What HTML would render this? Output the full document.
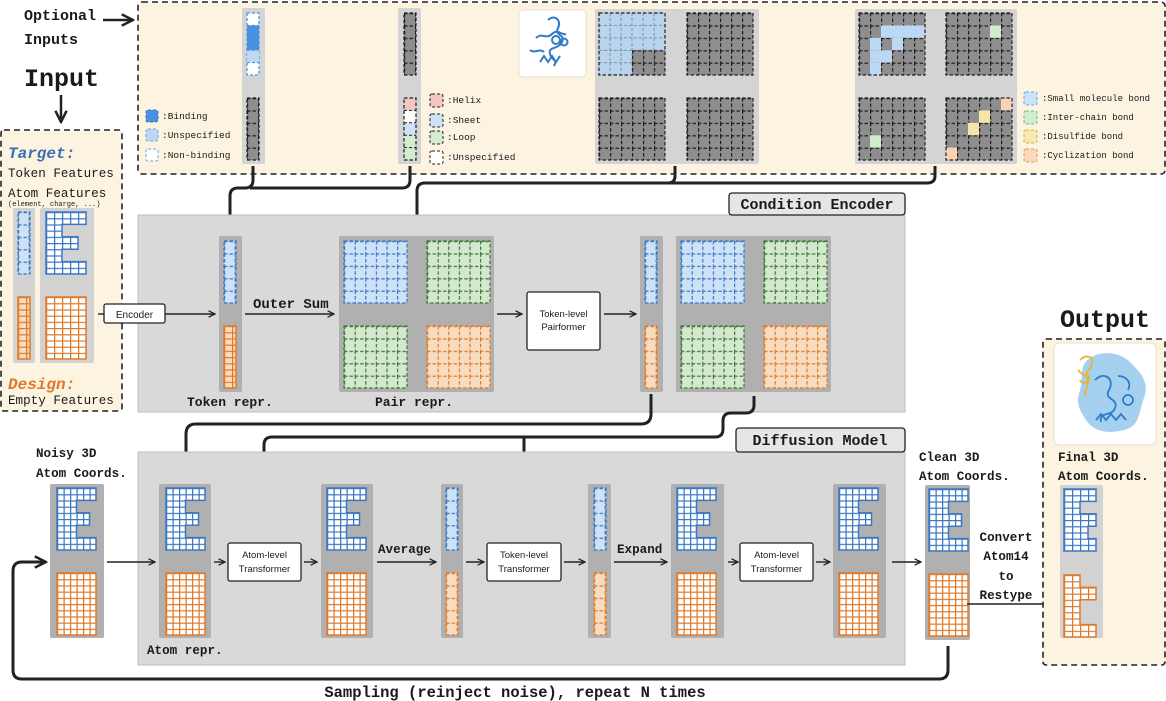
<!DOCTYPE html>
<html><head><meta charset="utf-8"><style>
html,body{margin:0;padding:0;background:#fff;}
svg{display:block;}
text{font-family:"Liberation Mono",monospace;fill:#1a1a1a;}
.s{font-family:"Liberation Sans",sans-serif;}
</style></head><body>
<svg width="1166" height="701" viewBox="0 0 1166 701" xmlns="http://www.w3.org/2000/svg">
<defs>
<pattern id="pb" width="10.6" height="12.4" patternUnits="userSpaceOnUse"><rect width="10.6" height="12.4" fill="#cde2f7"/><path d="M0 0.6H10.6M0.6 0V12.4" stroke="#3a78c2" stroke-width="1.2" stroke-dasharray="3.5 2"/></pattern>
<pattern id="pg" width="10.6" height="12.4" patternUnits="userSpaceOnUse"><rect width="10.6" height="12.4" fill="#d4e8cf"/><path d="M0 0.6H10.6M0.6 0V12.4" stroke="#3d7a36" stroke-width="1.2" stroke-dasharray="3.5 2"/></pattern>
<pattern id="po" width="10.6" height="12.4" patternUnits="userSpaceOnUse"><rect width="10.6" height="12.4" fill="#f8dcc0"/><path d="M0 0.6H10.6M0.6 0V12.4" stroke="#e07a2a" stroke-width="1.2" stroke-dasharray="3.5 2"/></pattern>
<pattern id="pk" width="11" height="12.4" patternUnits="userSpaceOnUse"><rect width="11" height="12.4" fill="#8e8e8e"/><path d="M0 0.6H11M0.6 0V12.4" stroke="#1e1e1e" stroke-width="1.2" stroke-dasharray="3.5 2"/></pattern>
<pattern id="sb" width="6.5" height="6.2" patternUnits="userSpaceOnUse"><rect width="6.5" height="6.2" fill="#fff"/><path d="M0 0.6H6.5M0.6 0V6.2" stroke="#3b78c3" stroke-width="1.3"/></pattern>
<pattern id="so" width="6.5" height="6.2" patternUnits="userSpaceOnUse"><rect width="6.5" height="6.2" fill="#fff"/><path d="M0 0.6H6.5M0.6 0V6.2" stroke="#e07a2a" stroke-width="1.3"/></pattern>
<pattern id="sb8" width="8" height="6.2" patternUnits="userSpaceOnUse"><rect width="8" height="6.2" fill="#fff"/><path d="M0 0.6H8M0.6 0V6.2" stroke="#3b78c3" stroke-width="1.3"/></pattern>
<pattern id="so8" width="8" height="6.2" patternUnits="userSpaceOnUse"><rect width="8" height="6.2" fill="#fff"/><path d="M0 0.6H8M0.6 0V6.2" stroke="#e07a2a" stroke-width="1.3"/></pattern>
<pattern id="so8f" width="8" height="6.2" patternUnits="userSpaceOnUse"><rect width="8" height="6.2" fill="#f8dcc0"/><path d="M0 0.6H8M0.6 0V6.2" stroke="#e07a2a" stroke-width="1.3"/></pattern>
<marker id="a" viewBox="0 0 10 10" refX="9" refY="5" markerWidth="8" markerHeight="8" orient="auto" markerUnits="userSpaceOnUse"><path d="M1 1L9 5L1 9" fill="none" stroke="#222" stroke-width="1.6"/></marker>
<marker id="A" viewBox="0 0 10 10" refX="9" refY="5" markerWidth="14" markerHeight="14" orient="auto" markerUnits="userSpaceOnUse"><path d="M1 1L9 5L1 9" fill="none" stroke="#222" stroke-width="1.8"/></marker>
<g id="Eb"><path d="M0 0H39V12.4H19.5V24.8H32.5V37.2H19.5V49.6H39V62H0Z" fill="url(#sb)" stroke="#3b78c3" stroke-width="1.5"/></g>
<g id="Eo"><rect width="39" height="62" fill="url(#so)" stroke="#e07a2a" stroke-width="1.5"/></g>
</defs>

<!-- Optional inputs -->
<text x="24" y="20" font-size="15" font-weight="bold">Optional</text>
<text x="24" y="44" font-size="15" font-weight="bold">Inputs</text>
<path d="M103 20H133" stroke="#222" stroke-width="2.5" marker-end="url(#A)"/>
<rect x="138" y="2" width="1027" height="172" rx="4" fill="#fcf4e1" stroke="#222" stroke-width="1.6" stroke-dasharray="6 4"/>

<!-- col A -->
<rect x="242" y="8" width="23" height="156" rx="2" fill="#d4d4d4"/>
<g transform="translate(247,13)"><rect width="12" height="62" fill="#fff" stroke="#4a8fe0" stroke-dasharray="3 2" stroke-width="1.2"/><rect y="12.4" width="12" height="24.8" fill="#4a90e2"/><rect y="37.2" width="12" height="12.4" fill="#bcd8f5"/><path d="M0 12.4H12M0 24.8H12M0 37.2H12M0 49.6H12" stroke="#4a8fe0" stroke-dasharray="3 2"/></g>
<g transform="translate(247,98)"><rect width="12" height="62" fill="url(#pk)"/><rect width="12" height="62" fill="none" stroke="#1e1e1e" stroke-width="1.2" stroke-dasharray="3.5 2"/></g>
<rect x="146" y="110" width="12" height="12" rx="2" fill="#4a90e2" stroke="#3a78c2" stroke-dasharray="3 2"/>
<rect x="146" y="129" width="12" height="12" rx="2" fill="#bcd8f5" stroke="#6aa4e8" stroke-dasharray="3 2"/>
<rect x="146" y="149" width="12" height="12" rx="2" fill="#fff" stroke="#6aa4e8" stroke-dasharray="3 2"/>
<text x="162" y="119" font-size="9.5">:Binding</text>
<text x="162" y="138" font-size="9.5">:Unspecified</text>
<text x="162" y="158" font-size="9.5">:Non-binding</text>

<!-- col B -->
<rect x="398" y="8" width="23" height="156" rx="2" fill="#d4d4d4"/>
<g transform="translate(404,13)"><rect width="12" height="62" fill="url(#pk)"/><rect width="12" height="62" fill="none" stroke="#1e1e1e" stroke-width="1.2" stroke-dasharray="3.5 2"/></g>
<g transform="translate(404,98)"><rect width="12" height="12.4" fill="#f2c7c3"/><rect y="12.4" width="12" height="12.4" fill="#fff"/><rect y="24.8" width="12" height="12.4" fill="#cde2f7"/><rect y="37.2" width="12" height="24.8" fill="#d4ecd0"/><rect width="12" height="62" fill="none" stroke="#1e1e1e" stroke-width="1.2" stroke-dasharray="3.5 2"/><path d="M0 12.4H12M0 24.8H12M0 37.2H12M0 49.6H12" stroke="#1e1e1e" stroke-dasharray="3 2"/></g>
<rect x="430" y="94" width="13" height="13" rx="2" fill="#f2c7c3" stroke="#222" stroke-dasharray="3 2"/>
<rect x="430" y="114" width="13" height="13" rx="2" fill="#cde2f7" stroke="#222" stroke-dasharray="3 2"/>
<rect x="430" y="131" width="13" height="13" rx="2" fill="#d4ecd0" stroke="#222" stroke-dasharray="3 2"/>
<rect x="430" y="151" width="13" height="13" rx="2" fill="#fff" stroke="#222" stroke-dasharray="3 2"/>
<text x="447" y="103" font-size="9.5">:Helix</text>
<text x="447" y="123" font-size="9.5">:Sheet</text>
<text x="447" y="140" font-size="9.5">:Loop</text>
<text x="447" y="160" font-size="9.5">:Unspecified</text>

<!-- protein small -->
<rect x="519" y="10" width="67" height="67" rx="4" fill="#fff" stroke="#e6e0d2"/>
<g fill="none" stroke="#2e7cc7" stroke-width="2">
<path d="M548 20c6-6 14 0 10 8s8 6 4 14-14 4-12 12 8 4 4 12"/>
<path d="M536 38c6-6 10 2 16-4s10 2 14 0"/>
<path d="M540 62l4-6 4 6 4-6 4 6 4-6"/>
<circle cx="556" cy="40" r="4"/><circle cx="564" cy="42" r="3.5"/>
<path d="M530 50c4 4 10-2 14 2"/>
</g>

<!-- pair A -->
<rect x="595" y="9" width="164" height="155" rx="2" fill="#d4d4d4"/>
<g transform="translate(599,13)"><rect width="66" height="62" fill="url(#pk)"/><g fill="#bcd8f5" opacity="0.95"><rect width="66" height="37.2"/><rect y="37.2" width="33" height="24.8"/></g><path d="M11 0V62M22 0V62M33 0V62M44 0V62M55 0V62M0 12.4H66M0 24.8H66M0 37.2H66M0 49.6H66" stroke="#555" stroke-width="1" stroke-dasharray="3 2" opacity="0.5"/><rect width="66" height="62" fill="none" stroke="#222" stroke-width="1.2" stroke-dasharray="3.5 2"/></g>
<g transform="translate(687,13)"><rect width="66" height="62" fill="url(#pk)"/><rect width="66" height="62" fill="none" stroke="#222" stroke-width="1.2" stroke-dasharray="3.5 2"/></g>
<g transform="translate(599,98)"><rect width="66" height="62" fill="url(#pk)"/><rect width="66" height="62" fill="none" stroke="#222" stroke-width="1.2" stroke-dasharray="3.5 2"/></g>
<g transform="translate(687,98)"><rect width="66" height="62" fill="url(#pk)"/><rect width="66" height="62" fill="none" stroke="#222" stroke-width="1.2" stroke-dasharray="3.5 2"/></g>

<!-- pair B -->
<rect x="855" y="9" width="162" height="155" rx="2" fill="#d4d4d4"/>
<g transform="translate(859,13)"><rect width="66" height="62" fill="url(#pk)"/><g fill="#bcd8f5"><rect x="22" y="12.4" width="44" height="12.4"/><rect x="11" y="24.8" width="11" height="12.4"/><rect x="33" y="24.8" width="11" height="12.4"/><rect x="11" y="37.2" width="22" height="12.4"/><rect x="11" y="49.6" width="11" height="12.4"/></g><rect width="66" height="62" fill="none" stroke="#222" stroke-width="1.2" stroke-dasharray="3.5 2"/></g>
<g transform="translate(946,13)"><rect width="66" height="62" fill="url(#pk)"/><rect x="44" y="12.4" width="11" height="12.4" fill="#cfeccb"/><rect width="66" height="62" fill="none" stroke="#222" stroke-width="1.2" stroke-dasharray="3.5 2"/></g>
<g transform="translate(859,98)"><rect width="66" height="62" fill="url(#pk)"/><rect x="11" y="37.2" width="11" height="12.4" fill="#cfeccb"/><rect width="66" height="62" fill="none" stroke="#222" stroke-width="1.2" stroke-dasharray="3.5 2"/></g>
<g transform="translate(946,98)"><rect width="66" height="62" fill="url(#pk)"/><rect x="55" y="0" width="11" height="12.4" fill="#f9d3b5"/><rect x="33" y="12.4" width="11" height="12.4" fill="#f7e4a8"/><rect x="22" y="24.8" width="11" height="12.4" fill="#f7e4a8"/><rect x="0" y="49.6" width="11" height="12.4" fill="#f9d3b5"/><rect width="66" height="62" fill="none" stroke="#222" stroke-width="1.2" stroke-dasharray="3.5 2"/></g>
<rect x="1024" y="92" width="13" height="13" rx="2" fill="#cde2f7" stroke="#6aa4e8" stroke-dasharray="3 2"/>
<rect x="1024" y="111" width="13" height="13" rx="2" fill="#d4ecd0" stroke="#6cbf66" stroke-dasharray="3 2"/>
<rect x="1024" y="130" width="13" height="13" rx="2" fill="#f7e8b8" stroke="#d8ad35" stroke-dasharray="3 2"/>
<rect x="1024" y="149" width="13" height="13" rx="2" fill="#f9d8bc" stroke="#ec9a55" stroke-dasharray="3 2"/>
<text x="1042" y="101" font-size="9">:Small molecule bond</text>
<text x="1042" y="120" font-size="9">:Inter-chain bond</text>
<text x="1042" y="139" font-size="9">:Disulfide bond</text>
<text x="1042" y="158" font-size="9">:Cyclization bond</text>

<!-- top connectors -->
<g fill="none" stroke="#222" stroke-width="3" stroke-linejoin="round">
<path d="M253 166V180Q253 188 245 188H238Q230 188 230 196V228" marker-end="url(#A)"/>
<path d="M410 166V180Q410 188 402 188H250"/>
<path d="M935 166V176Q935 183 927 183H425Q417 183 417 191V229" marker-end="url(#A)"/>
<path d="M675 166V176Q675 183 668 183"/>
</g>

<!-- Input -->
<text x="24" y="86" font-size="25" font-weight="bold">Input</text>
<path d="M61 95V122" stroke="#222" stroke-width="2.5" marker-end="url(#A)"/>
<rect x="1" y="130" width="121" height="281" rx="3" fill="#fcf4e1" stroke="#222" stroke-width="1.6" stroke-dasharray="6 4"/>
<text x="8" y="158" font-size="16" font-weight="bold" font-style="italic" fill="#3d6fb6" style="fill:#3d6fb6">Target:</text>
<text x="8" y="177" font-size="12.6">Token Features</text>
<text x="8" y="197" font-size="12.6">Atom Features</text>
<text x="8" y="206" font-size="7">(element, charge, ...)</text>
<rect x="13" y="208" width="22" height="155" rx="2" fill="#d2d2d2"/>
<rect x="40" y="208" width="54" height="155" rx="2" fill="#d2d2d2"/>
<g transform="translate(18,212)"><rect width="12" height="62" fill="url(#pb)"/><rect width="12" height="62" fill="none" stroke="#3a78c2" stroke-width="1.2" stroke-dasharray="3.5 2"/></g>
<g transform="translate(46,212)"><path d="M0 0H40V12.4H16V24.8H32V37.2H16V49.6H40V62H0Z" fill="url(#sb8)" stroke="#3b78c3" stroke-width="1.5"/></g>
<g transform="translate(18,297)"><rect width="12" height="62" fill="url(#so8f)" stroke="#e07a2a" stroke-width="1.5"/></g>
<g transform="translate(46,297)"><rect width="40" height="62" fill="url(#so8)" stroke="#e07a2a" stroke-width="1.5"/></g>
<text x="8" y="389" font-size="16" font-weight="bold" font-style="italic" style="fill:#e07a2a">Design:</text>
<text x="8" y="404" font-size="12.6">Empty Features</text>

<!-- Condition Encoder -->
<rect x="138" y="215" width="767" height="197" fill="#d9d9d9" stroke="#bdbdbd"/>
<rect x="729" y="193" width="176" height="22" rx="3" fill="#e6e6e6" stroke="#222" stroke-width="1.3"/>
<text x="817" y="209" font-size="15" font-weight="bold" text-anchor="middle">Condition Encoder</text>
<path d="M98 314H104" stroke="#222" stroke-width="1.4"/>
<rect x="104" y="304" width="61" height="19" rx="2" fill="#fff" stroke="#222" stroke-width="1.3"/>
<text class="s" x="134.5" y="318" font-size="10" text-anchor="middle">Encoder</text>
<path d="M165 314H215" stroke="#222" stroke-width="1.4" marker-end="url(#a)"/>

<rect x="219" y="236" width="23" height="156" rx="2" fill="#b0b0b0"/>
<g transform="translate(224,241)"><rect width="12" height="62" fill="url(#pb)"/><rect width="12" height="62" fill="none" stroke="#3a78c2" stroke-width="1.2" stroke-dasharray="3.5 2"/></g>
<g transform="translate(224,326)"><rect width="12" height="62" fill="url(#so8f)" stroke="#e07a2a" stroke-width="1.5"/></g>
<text x="187" y="406" font-size="13" font-weight="bold">Token repr.</text>
<text x="253" y="308" font-size="14" font-weight="bold">Outer Sum</text>
<path d="M245 314H334" stroke="#222" stroke-width="1.4" marker-end="url(#a)"/>

<rect x="339" y="236" width="155" height="156" rx="2" fill="#b0b0b0"/>
<g transform="translate(344,241)"><rect width="63" height="62" fill="url(#pb)"/><rect width="63" height="62" fill="none" stroke="#3a78c2" stroke-width="1.2" stroke-dasharray="3.5 2"/></g>
<g transform="translate(427,241)"><rect width="63" height="62" fill="url(#pg)"/><rect width="63" height="62" fill="none" stroke="#3d7a36" stroke-width="1.2" stroke-dasharray="3.5 2"/></g>
<g transform="translate(344,326)"><rect width="63" height="62" fill="url(#pg)"/><rect width="63" height="62" fill="none" stroke="#3d7a36" stroke-width="1.2" stroke-dasharray="3.5 2"/></g>
<g transform="translate(427,326)"><rect width="63" height="62" fill="url(#po)"/><rect width="63" height="62" fill="none" stroke="#e07a2a" stroke-width="1.2" stroke-dasharray="3.5 2"/></g>
<text x="375" y="406" font-size="13" font-weight="bold">Pair repr.</text>
<path d="M497 314H522" stroke="#222" stroke-width="1.4" marker-end="url(#a)"/>
<rect x="527" y="292" width="73" height="58" rx="2" fill="#fff" stroke="#222" stroke-width="1.3"/>
<text class="s" x="563.5" y="317" font-size="9.5" text-anchor="middle">Token-level</text>
<text class="s" x="563.5" y="330" font-size="9.5" text-anchor="middle">Pairformer</text>
<path d="M604 314H636" stroke="#222" stroke-width="1.4" marker-end="url(#a)"/>

<rect x="640" y="236" width="23" height="156" rx="2" fill="#b0b0b0"/>
<g transform="translate(645,241)"><rect width="12" height="62" fill="url(#pb)"/><rect width="12" height="62" fill="none" stroke="#3a78c2" stroke-width="1.2" stroke-dasharray="3.5 2"/></g>
<g transform="translate(645,326)"><rect width="12" height="62" fill="url(#po)"/><rect width="12" height="62" fill="none" stroke="#e07a2a" stroke-width="1.2" stroke-dasharray="3.5 2"/></g>
<rect x="676" y="236" width="155" height="156" rx="2" fill="#b0b0b0"/>
<g transform="translate(681,241)"><rect width="63" height="62" fill="url(#pb)"/><rect width="63" height="62" fill="none" stroke="#3a78c2" stroke-width="1.2" stroke-dasharray="3.5 2"/></g>
<g transform="translate(764,241)"><rect width="63" height="62" fill="url(#pg)"/><rect width="63" height="62" fill="none" stroke="#3d7a36" stroke-width="1.2" stroke-dasharray="3.5 2"/></g>
<g transform="translate(681,326)"><rect width="63" height="62" fill="url(#pg)"/><rect width="63" height="62" fill="none" stroke="#3d7a36" stroke-width="1.2" stroke-dasharray="3.5 2"/></g>
<g transform="translate(764,326)"><rect width="63" height="62" fill="url(#po)"/><rect width="63" height="62" fill="none" stroke="#e07a2a" stroke-width="1.2" stroke-dasharray="3.5 2"/></g>

<!-- middle connectors -->
<g fill="none" stroke="#222" stroke-width="3" stroke-linejoin="round">
<path d="M651 394V414Q651 424 641 424H196Q186 424 186 434V478" marker-end="url(#A)"/>
<path d="M754 396V405Q754 413 746 413H731Q723 413 723 421V429Q723 437 715 437H272Q264 437 264 445V530" marker-end="url(#A)"/>
<path d="M524 437V530" marker-end="url(#A)"/>
</g>

<!-- Diffusion -->
<rect x="138" y="452" width="767" height="213" fill="#d9d9d9" stroke="#bdbdbd"/>
<rect x="736" y="428" width="169" height="24" rx="3" fill="#e6e6e6" stroke="#222" stroke-width="1.3"/>
<text x="820" y="445" font-size="15" font-weight="bold" text-anchor="middle">Diffusion Model</text>

<text x="36" y="457" font-size="12.6" font-weight="bold">Noisy 3D</text>
<text x="36" y="477" font-size="12.6" font-weight="bold">Atom Coords.</text>
<rect x="50" y="484" width="54" height="154" rx="2" fill="#b0b0b0"/>
<use href="#Eb" x="57" y="488"/><use href="#Eo" x="57" y="573"/>
<path d="M107 562H155" stroke="#222" stroke-width="1.4" marker-end="url(#a)"/>

<rect x="159" y="484" width="52" height="154" rx="2" fill="#b0b0b0"/>
<use href="#Eb" x="166" y="488"/><use href="#Eo" x="166" y="573"/>
<text x="147" y="654" font-size="12.6" font-weight="bold">Atom repr.</text>
<path d="M214 562H225" stroke="#222" stroke-width="1.4" marker-end="url(#a)"/>
<rect x="228" y="543" width="73" height="38" rx="2" fill="#fff" stroke="#222" stroke-width="1.3"/>
<text class="s" x="264.5" y="558" font-size="9.5" text-anchor="middle">Atom-level</text>
<text class="s" x="264.5" y="572" font-size="9.5" text-anchor="middle">Transformer</text>
<path d="M304 562H317" stroke="#222" stroke-width="1.4" marker-end="url(#a)"/>

<rect x="321" y="484" width="52" height="154" rx="2" fill="#b0b0b0"/>
<use href="#Eb" x="327" y="488"/><use href="#Eo" x="327" y="573"/>
<text x="378" y="553" font-size="12.6" font-weight="bold">Average</text>
<path d="M377 562H436" stroke="#222" stroke-width="1.4" marker-end="url(#a)"/>
<rect x="441" y="484" width="22" height="154" rx="2" fill="#b0b0b0"/>
<g transform="translate(446,488)"><rect width="12" height="62" fill="url(#pb)"/><rect width="12" height="62" fill="none" stroke="#3a78c2" stroke-width="1.2" stroke-dasharray="3.5 2"/></g>
<g transform="translate(446,573)"><rect width="12" height="62" fill="url(#po)"/><rect width="12" height="62" fill="none" stroke="#e07a2a" stroke-width="1.2" stroke-dasharray="3.5 2"/></g>
<path d="M466 562H484" stroke="#222" stroke-width="1.4" marker-end="url(#a)"/>
<rect x="487" y="543" width="74" height="38" rx="2" fill="#fff" stroke="#222" stroke-width="1.3"/>
<text class="s" x="524" y="558" font-size="9.5" text-anchor="middle">Token-level</text>
<text class="s" x="524" y="572" font-size="9.5" text-anchor="middle">Transformer</text>
<path d="M564 562H585" stroke="#222" stroke-width="1.4" marker-end="url(#a)"/>
<rect x="588" y="484" width="23" height="154" rx="2" fill="#b0b0b0"/>
<g transform="translate(594,488)"><rect width="12" height="62" fill="url(#pb)"/><rect width="12" height="62" fill="none" stroke="#3a78c2" stroke-width="1.2" stroke-dasharray="3.5 2"/></g>
<g transform="translate(594,573)"><rect width="12" height="62" fill="url(#po)"/><rect width="12" height="62" fill="none" stroke="#e07a2a" stroke-width="1.2" stroke-dasharray="3.5 2"/></g>
<text x="617" y="553" font-size="12.6" font-weight="bold">Expand</text>
<path d="M614 562H667" stroke="#222" stroke-width="1.4" marker-end="url(#a)"/>
<rect x="671" y="484" width="53" height="154" rx="2" fill="#b0b0b0"/>
<use href="#Eb" x="677" y="488"/><use href="#Eo" x="677" y="573"/>
<path d="M728 562H738" stroke="#222" stroke-width="1.4" marker-end="url(#a)"/>
<rect x="740" y="543" width="73" height="38" rx="2" fill="#fff" stroke="#222" stroke-width="1.3"/>
<text class="s" x="776.5" y="558" font-size="9.5" text-anchor="middle">Atom-level</text>
<text class="s" x="776.5" y="572" font-size="9.5" text-anchor="middle">Transformer</text>
<path d="M816 562H830" stroke="#222" stroke-width="1.4" marker-end="url(#a)"/>
<rect x="833" y="484" width="53" height="154" rx="2" fill="#b0b0b0"/>
<use href="#Eb" x="839" y="488"/><use href="#Eo" x="839" y="573"/>
<path d="M892 562H921" stroke="#222" stroke-width="1.4" marker-end="url(#a)"/>

<text x="919" y="461" font-size="12.6" font-weight="bold">Clean 3D</text>
<text x="919" y="480" font-size="12.6" font-weight="bold">Atom Coords.</text>
<rect x="925" y="485" width="45" height="155" rx="2" fill="#b0b0b0"/>
<use href="#Eb" x="929" y="489"/><use href="#Eo" x="929" y="574"/>
<g font-size="12.6" font-weight="bold" text-anchor="middle">
<text x="1006" y="541">Convert</text><text x="1006" y="560">Atom14</text><text x="1006" y="580">to</text><text x="1006" y="599">Restype</text></g>
<path d="M967 604H1062" stroke="#222" stroke-width="1.4" marker-end="url(#a)"/>

<!-- loop -->
<path d="M948 646V670Q948 679 939 679H22Q13 679 13 670V571Q13 562 22 562H46" fill="none" stroke="#222" stroke-width="3" marker-end="url(#A)"/>
<text x="515" y="697" font-size="15.5" font-weight="bold" text-anchor="middle">Sampling (reinject noise), repeat N times</text>

<!-- Output -->
<text x="1060" y="327" font-size="25" font-weight="bold">Output</text>
<rect x="1043" y="339" width="122" height="326" rx="3" fill="#fcf4e1" stroke="#222" stroke-width="1.6" stroke-dasharray="6 4"/>
<rect x="1054" y="343" width="102" height="102" rx="5" fill="#fff" stroke="#e6e0d2"/>
<path d="M1090 358c12-8 30-6 40 4s20 20 14 36-4 28-20 32-30 2-38-10-10-18-6-30-2-24 10-32z" fill="#9ccbee" opacity="0.9"/>
<g fill="none" stroke="#2e7cc7" stroke-width="1.8"><path d="M1095 380c10-10 20 0 14 10s10 8 6 18-16 2-14 14"/><path d="M1096 420l5-6 5 6 5-6 5 6 5-6 5 6"/><path d="M1118 376c8 0 14 6 10 14"/><circle cx="1128" cy="400" r="5"/></g>
<g fill="none" stroke="#e8b62a" stroke-width="1.8"><path d="M1080 360c6-6 14-4 12 4s-8 6-4 12-6 10-8 4"/><path d="M1078 370c4 6 10 4 10 12s-6 10-2 14"/></g>
<text x="1058" y="461" font-size="12.6" font-weight="bold">Final 3D</text>
<text x="1058" y="480" font-size="12.6" font-weight="bold">Atom Coords.</text>
<rect x="1060" y="485" width="43" height="153" rx="2" fill="#d2d2d2"/>
<g transform="translate(1064,489)"><path d="M0 0H32V12.4H16V24.8H32V37.2H24V49.6H32V62H0Z" fill="url(#sb8)" stroke="#3b78c3" stroke-width="1.5"/></g>
<g transform="translate(1064,575)"><path d="M0 0H16V12.4H32V24.8H16V49.6H32V62H0Z" fill="url(#so8)" stroke="#e07a2a" stroke-width="1.5"/></g>
</svg>
</body></html>
